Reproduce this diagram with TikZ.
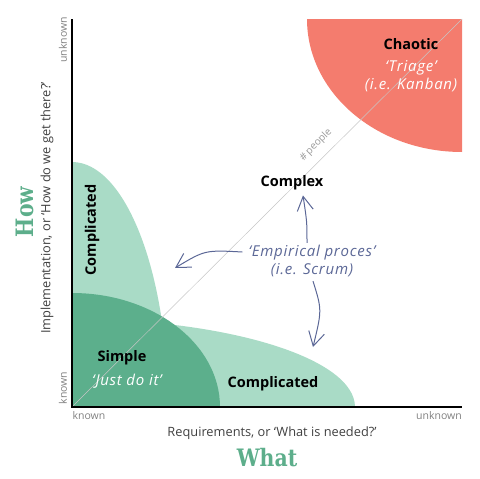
\documentclass[tikz,border=0pt]{standalone}
\usepackage{fontspec}
\setmainfont{Open Sans}
\newfontfamily\slab{DejaVu Serif}
\usetikzlibrary{arrows.meta}
\definecolor{lightgreen}{HTML}{A9DBC6}
\definecolor{darkgreen}{HTML}{5CAF8C}
\definecolor{chaosred}{HTML}{F47C6E}
\definecolor{slate}{HTML}{5B6796}
\definecolor{titlegreen}{HTML}{5DAE8B}
\begin{document}
\begin{tikzpicture}[x=1pt, y=-1pt,
  axislbl/.style = {text=gray, font=\fontsize{10.5}{10.5}\selectfont, inner sep=0pt},
  axistitle/.style = {text=black!75, font=\fontsize{12.8}{12.8}\selectfont, inner sep=0pt},
  bigtitle/.style = {text=titlegreen, font=\slab\bfseries\fontsize{24}{24}\selectfont, inner sep=0pt},
  dlabel/.style = {font=\bfseries\fontsize{14.5}{14.5}\selectfont, inner sep=0pt},
  hand/.style = {font=\itshape\fontsize{15}{18}\selectfont\addfontfeature{LetterSpace=5}, inner sep=0pt, align=center},
  arr/.style = {slate, line width=1pt, -{Straight Barb[length=14pt, width=16pt]}}]
\useasboundingbox (0,0) rectangle (480,479);

\coordinate (o) at (72,407);
\coordinate (ytop) at (72,19);
\coordinate (xend) at (462,407);
\coordinate (far) at (462,19);

% domains
\begin{scope}
\clip (ytop) rectangle (xend);
\fill[lightgreen] (o) ellipse [x radius=96, y radius=245];
\fill[lightgreen] (o) ellipse [x radius=283, y radius=88];
\fill[darkgreen] (o) ellipse [x radius=148, y radius=114];
\fill[chaosred] (far) ellipse [x radius=155, y radius=133];
\end{scope}

\draw[gray!45, line width=0.5pt] (o) -- (far);
\draw[line width=1.5pt] (ytop) -- (o) -- (xend);

% axes
\node[axislbl, rotate=90] (yunk) at (63,40) {unknown};
\node[axislbl, rotate=90] (ykn) at (63,388) {known};
\node[axislbl] (xkn) at (89,416) {known};
\node[axislbl] (xunk) at (439,416) {unknown};
\node[axistitle, rotate=90] (ytitle) at (47,208) {Implementation, or `How do we get there?'};
\node[axistitle] (xtitle) at (272,433) {Requirements, or `What is needed?'};
\node[bigtitle, rotate=90] (how) at (25,212) {\scalebox{0.85}[1]{How}};
\node[bigtitle] (what) at (267,458) {\scalebox{0.85}[1]{What}};
\node[text=gray!80, font=\fontsize{10}{10}\selectfont, rotate=45, inner sep=0pt] (people) at (316,145) {\#\,people};

% labels
\node[dlabel] (chaotic) at (411,44) {Chaotic};
\node[hand, text=white] (triage) at (411,76) {`Triage'\\(i.e. Kanban)};
\node[dlabel] (complex) at (292,183) {Complex};
\node[dlabel, rotate=90] (compl1) at (92,230) {Complicated};
\node[dlabel] (simple) at (122,358) {Simple};
\node[hand, text=white] (just) at (127,381) {`Just do it'};
\node[dlabel] (compl2) at (273,384) {Complicated};
\node[hand, text=slate] (emp) at (312,261) {`Empirical proces'\\(i.e. Scrum)};

\coordinate (leftend) at (175,268);
\coordinate (downend) at (313,347);

\draw[arr] (emp.north) ++(-5,-2) .. controls (307,222) .. ([xshift=11pt, yshift=-5pt]complex.south);
\draw[arr] (emp.west) ++(-6,-9) .. controls (205,250) .. (leftend);
\draw[arr] (emp.south) ++(1,4) .. controls (322,310) .. (downend);

\end{tikzpicture}
\end{document}
